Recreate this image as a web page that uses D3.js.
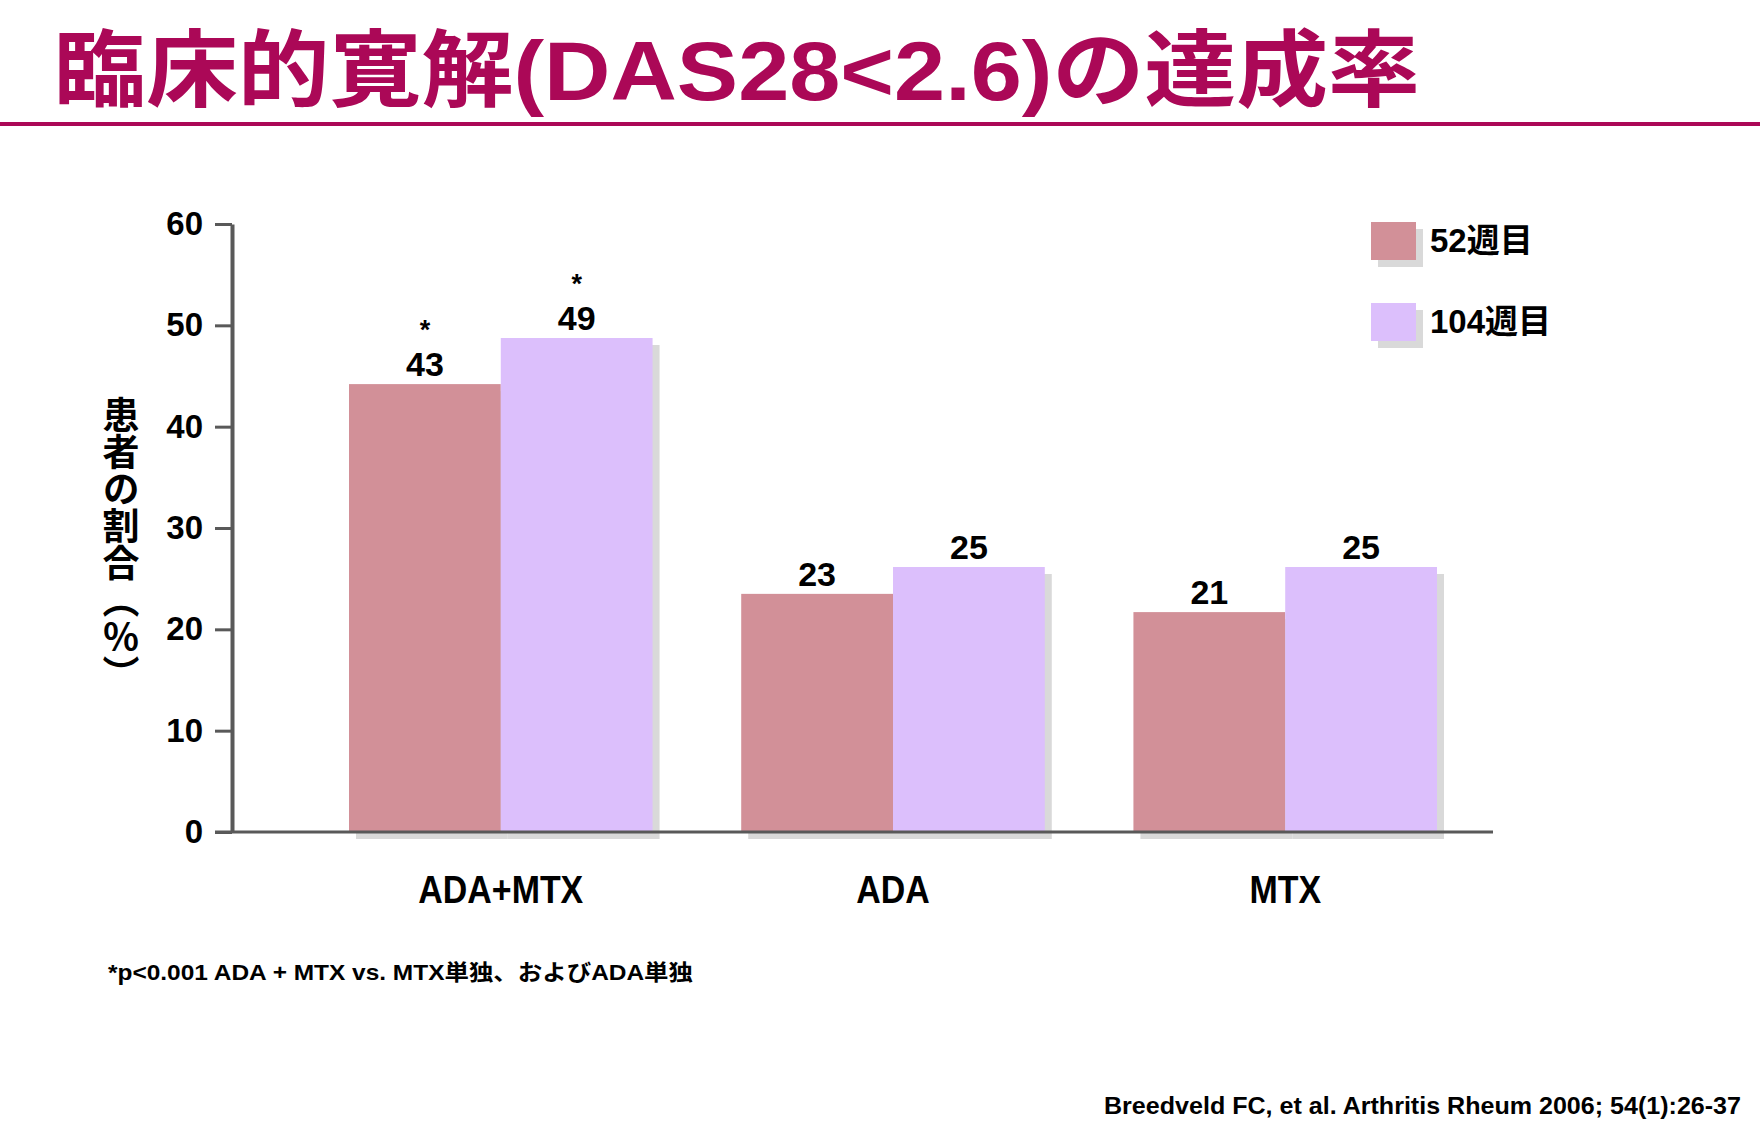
<!DOCTYPE html>
<html>
<head>
<meta charset="utf-8">
<script src="https://cdn.jsdelivr.net/npm/d3@7"></script>
<style>
  html, body { margin: 0; padding: 0; background: #fff; }
  svg { display: block; }
  text { font-family: "Liberation Sans", Arial, "Noto Sans CJK JP", sans-serif; font-weight: bold; }
</style>
</head>
<body>
<div id="chart"></div>
<script>
// data
const groups = ["ADA+MTX", "ADA", "MTX"];
const seriesNames = ["52週目", "104週目"];
const week52 = [44.2, 23.5, 21.7];
const week104 = [48.75, 26.15, 26.15];
const week52Labels = ["43", "23", "21"];
const week104Labels = ["49", "25", "25"];
const week52Star = [true, false, false];
const week104Star = [true, false, false];
const yTicks = [0, 10, 20, 30, 40, 50, 60];

const colors = ["#d29098", "#dcbffc"];
const shadow = "#d9d9d9";
const titleColor = "#ab0857";
const axisColor = "#595959";

const W = 1760, H = 1122;

const svg = d3.select("#chart").append("svg")
    .attr("width", W)
    .attr("height", H);

// title + rule
svg.append("text")
    .attr("x", 54)
    .attr("y", 100)
    .attr("fill", titleColor)
    .attr("font-size", 84)
    .attr("textLength", 1366)
    .attr("lengthAdjust", "spacingAndGlyphs")
    .text("臨床的寛解(DAS28<2.6)の達成率");

svg.append("rect")
    .attr("x", 0).attr("y", 122)
    .attr("width", W).attr("height", 4)
    .attr("fill", titleColor);

const y = d3.scaleLinear().domain([0, 60]).range([832, 224]);
const x0 = d3.scaleBand().domain(groups).range([349, 1437]).paddingInner(0.226);
const x1 = d3.scaleBand().domain(seriesNames).range([0, x0.bandwidth()]);

const rows = groups.map((g, i) => ({
    group: g,
    bars: [
        {key: seriesNames[0], value: week52[i], label: week52Labels[i], star: week52Star[i], c: colors[0]},
        {key: seriesNames[1], value: week104[i], label: week104Labels[i], star: week104Star[i], c: colors[1]}
    ]
}));

const gGroup = svg.append("g")
    .selectAll("g")
    .data(rows)
    .join("g")
    .attr("transform", d => `translate(${x0(d.group)},0)`);

// shadows first
gGroup.selectAll("rect.shadow")
    .data(d => d.bars)
    .join("rect")
    .attr("class", "shadow")
    .attr("x", d => x1(d.key) + 7)
    .attr("y", d => y(d.value) + 7)
    .attr("width", x1.bandwidth())
    .attr("height", d => y(0) - y(d.value))
    .attr("fill", shadow);

gGroup.selectAll("rect.bar")
    .data(d => d.bars)
    .join("rect")
    .attr("class", "bar")
    .attr("x", d => x1(d.key))
    .attr("y", d => y(d.value))
    .attr("width", x1.bandwidth())
    .attr("height", d => y(0) - y(d.value))
    .attr("fill", d => d.c);

gGroup.selectAll("text.val")
    .data(d => d.bars)
    .join("text")
    .attr("class", "val")
    .attr("x", d => x1(d.key) + x1.bandwidth() / 2)
    .attr("y", d => y(d.value) - 8)
    .attr("text-anchor", "middle")
    .attr("font-size", 34)
    .text(d => d.label);

gGroup.selectAll("text.star")
    .data(d => d.bars.filter(b => b.star))
    .join("text")
    .attr("class", "star")
    .attr("x", d => x1(d.key) + x1.bandwidth() / 2)
    .attr("y", d => y(d.value) - 45)
    .attr("text-anchor", "middle")
    .attr("font-size", 27)
    .text("*");

// category labels
svg.append("g")
    .selectAll("text")
    .data(groups)
    .join("text")
    .attr("transform", d => `translate(${x0(d) + x0.bandwidth() / 2},903) scale(0.87,1)`)
    .attr("text-anchor", "middle")
    .attr("font-size", 39)
    .text(d => d);

// axes
const yAxis = svg.append("g")
    .attr("transform", "translate(232,0)")
    .call(d3.axisLeft(y).tickValues(yTicks).tickSize(17).tickSizeOuter(0).tickPadding(12));
yAxis.select(".domain").attr("stroke", axisColor).attr("stroke-width", 4);
yAxis.selectAll(".tick line").attr("stroke", axisColor).attr("stroke-width", 3);
yAxis.selectAll(".tick text")
    .attr("fill", "#000")
    .attr("font-size", 33)
    .attr("font-family", null);

svg.append("line")
    .attr("x1", 215).attr("x2", 1493)
    .attr("y1", y(0)).attr("y2", y(0))
    .attr("stroke", axisColor)
    .attr("stroke-width", 3);

// y title, vertical
svg.append("text")
    .attr("x", 121)
    .attr("y", 544)
    .attr("text-anchor", "middle")
    .attr("font-size", 37)
    .style("writing-mode", "vertical-rl")
    .style("font-family", "'Noto Sans CJK JP', sans-serif")
    .text("患者の割合（％）");

// legend
const legend = svg.append("g")
    .selectAll("g")
    .data(seriesNames)
    .join("g")
    .attr("transform", (d, i) => `translate(1371,${222 + i * 81})`);
legend.append("rect")
    .attr("x", 7).attr("y", 7)
    .attr("width", 45).attr("height", 38)
    .attr("fill", shadow);
legend.append("rect")
    .attr("width", 45).attr("height", 38)
    .attr("fill", (d, i) => colors[i]);
legend.append("text")
    .attr("x", 59)
    .attr("y", 30)
    .attr("font-size", 33)
    .text(d => d);

// footnotes
svg.append("text")
    .attr("x", 108).attr("y", 980)
    .attr("font-size", 22)
    .attr("textLength", 585)
    .attr("lengthAdjust", "spacingAndGlyphs")
    .text("*p<0.001 ADA + MTX vs. MTX単独、およびADA単独");

svg.append("text")
    .attr("x", 1104).attr("y", 1114)
    .attr("font-size", 24)
    .attr("textLength", 637)
    .attr("lengthAdjust", "spacingAndGlyphs")
    .text("Breedveld FC, et al. Arthritis Rheum 2006; 54(1):26-37");
</script>
</body>
</html>
